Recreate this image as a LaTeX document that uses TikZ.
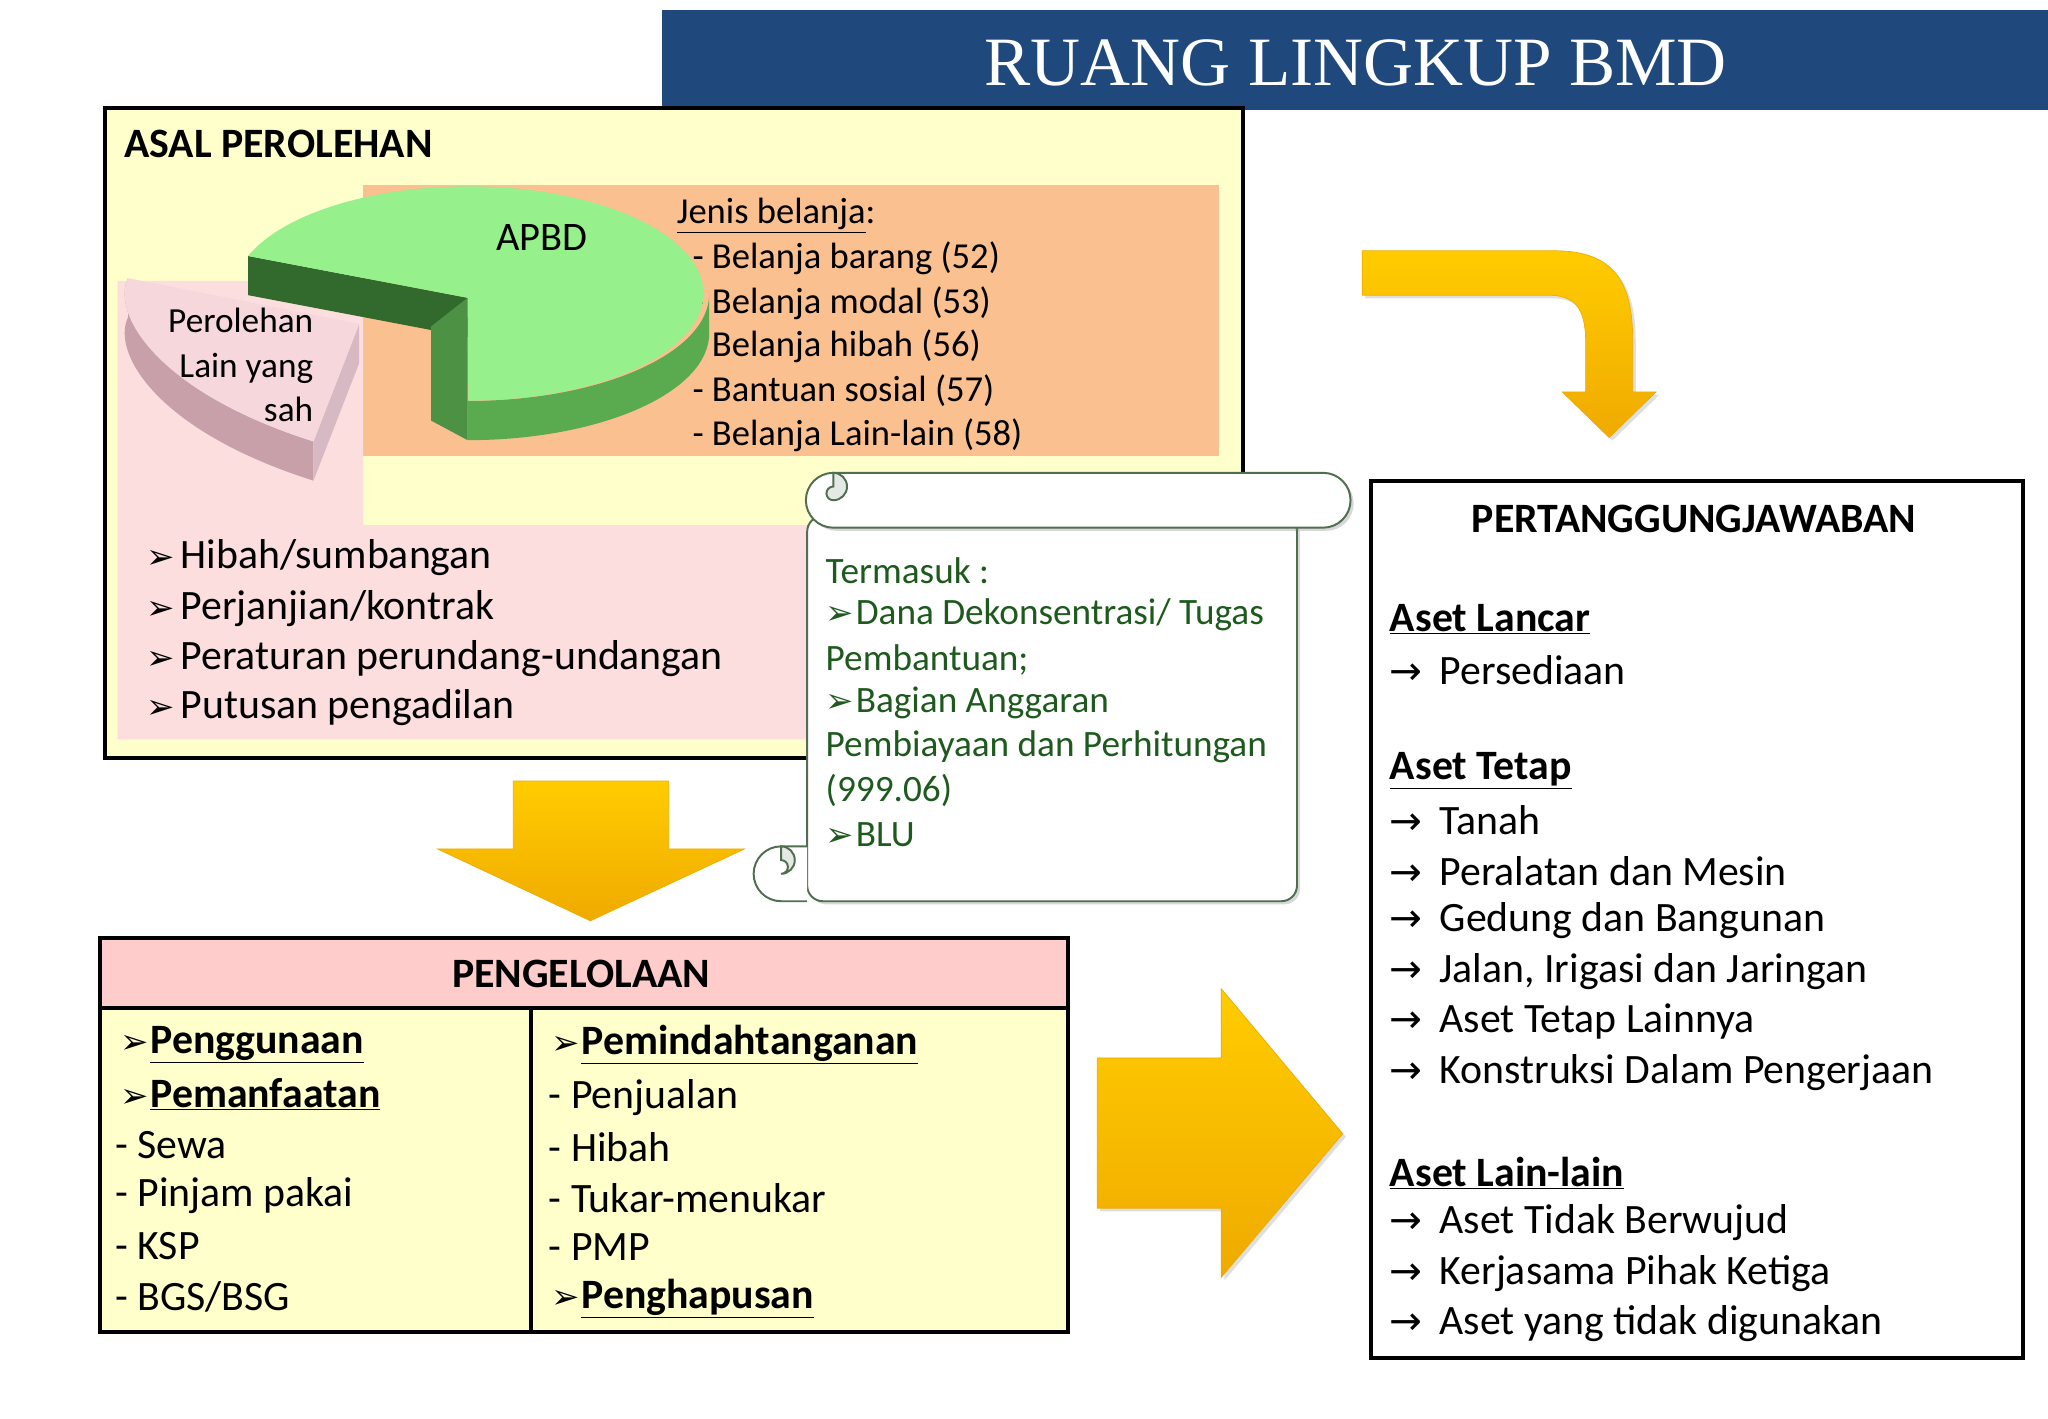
\documentclass[tikz,border=0pt]{standalone}
\usepackage{fontspec}
\setmainfont{Carlito}
\newfontfamily\titlefont{Liberation Serif}
\newfontfamily\symf{DejaVu Sans}
\usetikzlibrary{shadows}
\definecolor{tblue}{RGB}{31,73,125}
\definecolor{lyel}{RGB}{255,255,204}
\definecolor{orng}{RGB}{250,192,143}
\definecolor{lpink}{RGB}{252,222,222}
\definecolor{hpink}{RGB}{255,204,204}
\definecolor{lgreen}{RGB}{150,240,140}
\definecolor{mgreen}{RGB}{90,170,80}
\definecolor{dgreen}{RGB}{50,105,45}
\definecolor{sgreen}{RGB}{30,90,30}
\definecolor{sdraw}{RGB}{80,110,80}
\definecolor{gold}{RGB}{255,204,0}
\definecolor{gold2}{RGB}{240,170,0}
\newcommand{\bul}[1][26pt]{\makebox[#1][l]{\symf\fontsize{26}{26}\selectfont ➢}}
\newcommand{\arr}{\makebox[38pt][l]{\symf\fontsize{30}{30}\selectfont →}}
\tikzset{
 txt/.style={anchor=west,inner sep=0pt,font=\fontsize{32}{34}\selectfont},
 jtxt/.style={anchor=west,inner sep=0pt,font=\fontsize{28}{30}\selectfont},
 stxt/.style={anchor=west,inner sep=0pt,font=\fontsize{28.5}{30}\selectfont,text=sgreen},
 head/.style={font=\bfseries\fontsize{32}{34}\selectfont},
 frame/.style={draw=black,line width=3pt},
 yarrow/.style={top color=gold,bottom color=gold2,draw=gold2,line width=0.5pt}
}
\begin{document}
\begin{tikzpicture}[x=1pt,y=-1pt]
\useasboundingbox (0,0) rectangle (1568,1086);
\fill[white] (0,0) rectangle (1568,1086);
% title
\fill[tblue] (507,8) rectangle (1568,84);
\node[text=white,font=\titlefont\fontsize{53}{53}\selectfont] (title) at (1038,48) {RUANG LINGKUP BMD};
% asal perolehan
\node[frame,fill=lyel,minimum width=871,minimum height=498,anchor=north west,inner sep=0] (asal) at (79,81) {};
\fill[orng] (278,142) rectangle (933,349);
\fill[lpink] (90,215) -- (278,215) -- (278,402) -- (620,402) -- (620,566) -- (90,566) -- cycle;
\node[anchor=west,inner sep=0,head] (asalt) at (95,110) {ASAL PEROLEHAN};
% jenis belanja
\node[jtxt] (jb) at (518,165) {\underline{Jenis belanja}:};
\node[jtxt] (j1) at (530,198) {- Belanja barang (52)};
\node[jtxt] (j2) at (530,232) {- Belanja modal (53)};
\node[jtxt] (j3) at (530,265) {- Belanja hibah (56)};
\node[jtxt] (j4) at (530,299) {- Bantuan sosial (57)};
\node[jtxt] (j5) at (530,333) {- Belanja Lain-lain (58)};
% pink slice
\fill[color={rgb,255:red,200;green,160;blue,170}] (98,213) .. controls (85,240) and (120,300) .. (240,338) -- (240,368) .. controls (120,330) and (85,270) .. (98,243) -- cycle;
\fill[color={rgb,255:red,215;green,185;blue,195}] (275,248) -- (240,338) -- (240,368) -- (275,278) -- cycle;
\fill[color={rgb,255:red,245;green,215;blue,220}] (275,248) -- (98,213) .. controls (85,240) and (120,300) .. (240,338) -- cycle;
\node[align=right,anchor=north east,inner sep=0,font=\fontsize{27}{34}\selectfont] (plain) at (240,236) {Perolehan\\Lain yang\\sah};
% green pie
\fill[dgreen] (190,196) -- (358,228) -- (358,258) -- (190,226) -- cycle;
\fill[mgreen] (543,225) arc[start angle=0,end angle=90,x radius=185,y radius=82] -- ++(0,30) arc[start angle=90,end angle=0,x radius=185,y radius=82] -- cycle;
\fill[mgreen!85!black] (358,228) -- (358,307) -- (358,337) -- (330,322) -- (330,250) -- cycle;
\fill[lgreen] (358,228) -- (190,196) arc[start angle=200.5,end angle=450,x radius=180,y radius=82] -- cycle;
\node[font=\fontsize{31}{31}\selectfont,inner sep=0] (apbd) at (415,182) {APBD};
% bullets
\node[txt] (b1) at (112,427) {\bul Hibah/sumbangan};
\node[txt] (b2) at (112,466) {\bul Perjanjian/kontrak};
\node[txt] (b3) at (112,504) {\bul Peraturan perundang-undangan};
\node[txt] (b4) at (112,542) {\bul Putusan pengadilan};
% scroll
\begin{scope}[draw=sdraw,line width=1.5pt]
\filldraw[fill=white,rounded corners=12pt,drop shadow={opacity=0.3}] (618,395) -- (618,690) -- (993,690) -- (993,395) -- cycle;
\filldraw[fill=white,drop shadow={opacity=0.3}] (638,362) -- (1013,362) arc[start angle=270,end angle=450,radius=21] -- (638,404) arc[start angle=90,end angle=270,radius=21] -- cycle;
\filldraw[fill=sdraw!15] (638,362) arc[start angle=270,end angle=450,radius=10.5] arc[start angle=90,end angle=270,radius=5.25] -- cycle;
\filldraw[fill=white] (618,648) -- (598,648) arc[start angle=270,end angle=90,radius=21] -- (618,690);
\filldraw[fill=sdraw!15] (598,648) arc[start angle=270,end angle=450,radius=10.5] arc[start angle=90,end angle=-90,radius=5.25] -- cycle;
\end{scope}
\node[stxt] (s1) at (632,437) {Termasuk :};
\node[stxt] (s2) at (632,471) {\bul[23pt]Dana Dekonsentrasi/ Tugas};
\node[stxt] (s3) at (632,505) {Pembantuan;};
\node[stxt] (s4) at (632,538) {\bul[23pt]Bagian Anggaran};
\node[stxt] (s5) at (632,572) {Pembiayaan dan Perhitungan};
\node[stxt] (s6) at (632,605) {(999.06)};
\node[stxt] (s7) at (632,639) {\bul[23pt]BLU};
% down arrow
\path[yarrow] (393,598) -- (512,598) -- (512,650) -- (570,650) -- (452,705) -- (335,650) -- (393,650) -- cycle;
% pengelolaan
\node[frame,fill=hpink,minimum width=741,minimum height=53,anchor=north west,inner sep=0] (phead) at (75,717) {};
\node[head] (pt) at (445,746) {PENGELOLAAN};
\node[frame,fill=lyel,minimum width=330,minimum height=248,anchor=north west,inner sep=0] (pl) at (75,770) {};
\node[frame,fill=lyel,minimum width=411,minimum height=248,anchor=north west,inner sep=0] (pr) at (405,770) {};
\node[txt] (l1) at (92,800) {\bul[23pt]\textbf{\underline{Penggunaan}}};
\node[txt] (l2) at (92,838) {\bul[23pt]\textbf{\underline{Pemanfaatan}}};
\node[txt] (l3) at (88,877) {- Sewa};
\node[txt] (l4) at (88,915) {- Pinjam pakai};
\node[txt] (l5) at (88,954) {- KSP};
\node[txt] (l6) at (88,993) {- BGS/BSG};
\node[txt] (r1) at (422,800) {\bul[23pt]\textbf{\underline{Pemindahtanganan}}};
\node[txt] (r2) at (420,840) {- Penjualan};
\node[txt] (r3) at (420,878) {- Hibah};
\node[txt] (r4) at (420,917) {- Tukar-menukar};
\node[txt] (r5) at (420,955) {- PMP};
\node[txt] (r6) at (422,994) {\bul[23pt]\textbf{\underline{Penghapusan}}};
% right arrow
\path[yarrow,drop shadow={opacity=0.25}] (840,810) -- (935,810) -- (935,757) -- (1028,868) -- (935,978) -- (935,925) -- (840,925) -- cycle;
% curved arrow
\path[yarrow,drop shadow={opacity=0.25}] (1043,192) -- (1190,192) .. controls (1235,192) and (1250,215) .. (1250,260) -- (1250,300) -- (1268,300) -- (1232,335) -- (1196,300) -- (1214,300) -- (1214,262) .. controls (1214,235) and (1205,226) .. (1185,226) -- (1043,226) -- cycle;
% pertanggungjawaban
\node[frame,fill=white,minimum width=499,minimum height=671,anchor=north west,inner sep=0] (pj) at (1048,367) {};
\node[head] (pjt) at (1297,397) {PERTANGGUNGJAWABAN};
\node[txt] (a1) at (1064,474) {\textbf{\underline{Aset Lancar}}};
\node[txt] (a2) at (1064,513) {\arr Persediaan};
\node[txt] (a3) at (1064,590) {\textbf{\underline{Aset Tetap}}};
\node[txt] (a4) at (1064,628) {\arr Tanah};
\node[txt] (a5) at (1064,667) {\arr Peralatan dan Mesin};
\node[txt] (a6) at (1064,705) {\arr Gedung dan Bangunan};
\node[txt] (a7) at (1064,744) {\arr Jalan, Irigasi dan Jaringan};
\node[txt] (a8) at (1064,782) {\arr Aset Tetap Lainnya};
\node[txt] (a9) at (1064,821) {\arr Konstruksi Dalam Pengerjaan};
\node[txt] (a10) at (1064,898) {\textbf{\underline{Aset Lain-lain}}};
\node[txt] (a11) at (1064,936) {\arr Aset Tidak Berwujud};
\node[txt] (a12) at (1064,975) {\arr Kerjasama Pihak Ketiga};
\node[txt] (a13) at (1064,1013) {\arr Aset yang tidak digunakan};
\end{tikzpicture}
\end{document}
